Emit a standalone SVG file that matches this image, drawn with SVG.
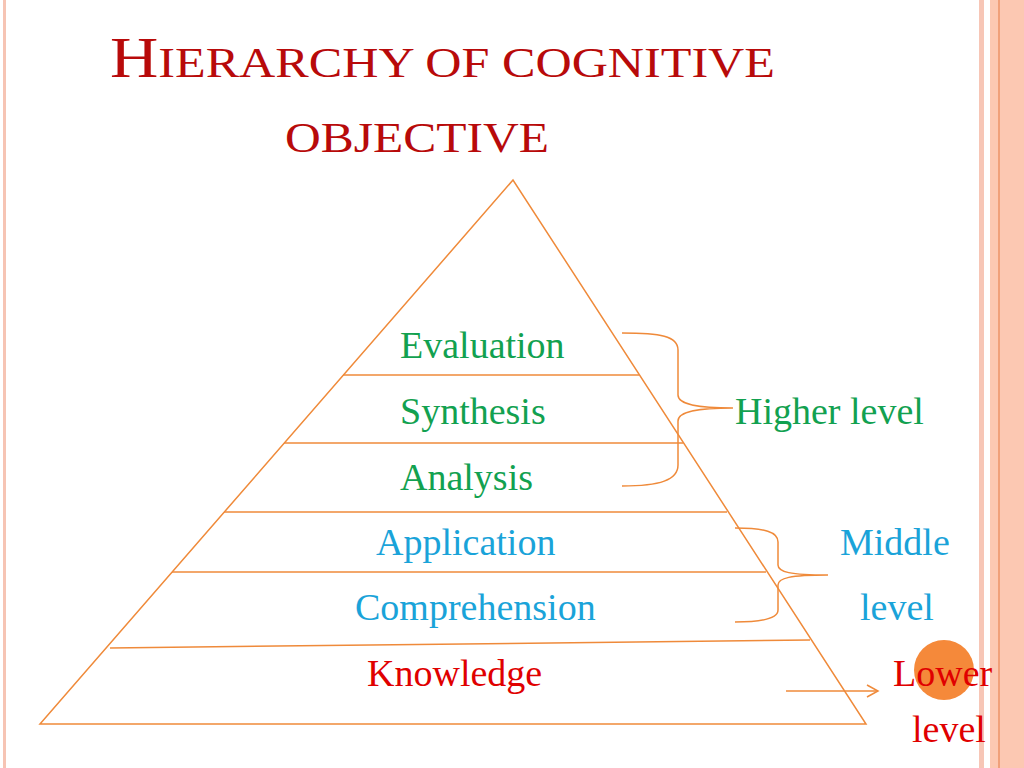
<svg xmlns="http://www.w3.org/2000/svg" width="1024" height="768" viewBox="0 0 1024 768">
<style>
.ln{stroke:#ef8a3a;stroke-width:1.5;fill:none}
.t{font-family:"Liberation Serif",serif;font-size:38px}
.g{fill:#12a150}.b{fill:#1aa3d9}.r{fill:#e00000}
.ti{font-family:"Liberation Serif",serif;fill:#b80a0a}
</style>
<defs><marker id="ah" markerWidth="14" markerHeight="14" refX="12" refY="7" orient="auto" markerUnits="userSpaceOnUse"><path d="M1,1 L12,7 L1,13" fill="none" stroke="#ef8a3a" stroke-width="1.5"/></marker></defs>
<rect width="1024" height="768" fill="#fff"/>
<rect x="3" y="0" width="3" height="768" fill="#f6c4b4"/>
<rect x="979" y="0" width="5" height="768" fill="#f7c6b6"/>
<rect x="990" y="0" width="34" height="768" fill="#fcc8b2"/>
<rect x="998" y="0" width="2" height="768" fill="#f0a07a"/>
<g id="title">
<text class="ti" x="110" y="77" font-size="42" textLength="665" lengthAdjust="spacingAndGlyphs"><tspan font-size="56">H</tspan>IERARCHY OF COGNITIVE</text>
<text class="ti" x="285" y="152" font-size="42" textLength="264" lengthAdjust="spacingAndGlyphs">OBJECTIVE</text>
</g>
<g id="pyramid">
<path class="ln" d="M513,180 L40,724 L866,724 Z"/>
<line class="ln" x1="343" y1="375" x2="639" y2="375"/>
<line class="ln" x1="284" y1="443" x2="683" y2="443"/>
<line class="ln" x1="224" y1="512" x2="727" y2="512"/>
<line class="ln" x1="172" y1="572" x2="766" y2="572"/>
<line class="ln" x1="110" y1="648" x2="810" y2="640"/>
</g>
<g id="levels">
<text class="t g" x="400" y="358">Evaluation</text>
<text class="t g" x="400" y="424">Synthesis</text>
<text class="t g" x="400" y="490">Analysis</text>
<text class="t b" x="376" y="555">Application</text>
<text class="t b" x="355" y="620">Comprehension</text>
<text class="t r" x="367" y="686">Knowledge</text>
</g>
<g id="connectors">
<path class="ln" d="M622,333 C660,333 678,336 678,350 L678,395 C678,405 700,408 733,408 C700,408 678,411 678,421 L678,465 C678,480 660,486 622,486"/>
<path class="ln" d="M735,528 C765,528 778,532 778,542 L778,565 C778,572 790,575 828,575 C790,575 778,578 778,585 L778,610 C778,618 765,622 735,622"/>
<line class="ln" x1="786" y1="691" x2="878" y2="691" marker-end="url(#ah)"/>
</g>
<circle cx="944" cy="670" r="30" fill="#f5893a"/>
<g id="labels">
<text class="t g" x="735" y="424">Higher  level</text>
<text class="t b" x="840" y="555">Middle</text>
<text class="t b" x="860" y="620">level</text>
<text class="t r" x="893" y="686">Lower</text>
<text class="t r" x="912" y="742">level</text>
</g>
</svg>
